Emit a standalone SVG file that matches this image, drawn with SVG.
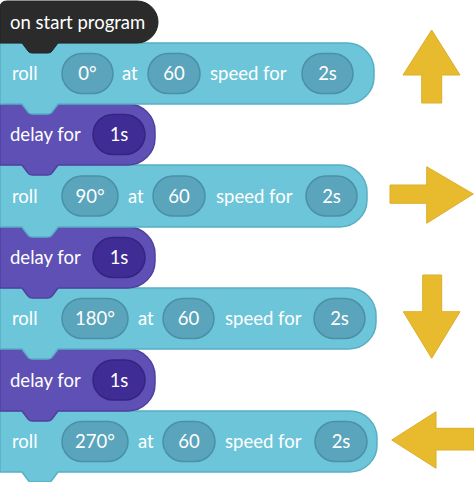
<svg xmlns="http://www.w3.org/2000/svg" width="474" height="482" viewBox="0 0 474 482">
<style>
text{font-family:Lato,"Liberation Sans",sans-serif;font-size:18.5px;fill:#ffffff}
.c{text-anchor:middle}
.roll{fill:#6DC5DA;stroke:#58AEC3;stroke-width:1.5}
.rin{fill:#5AA5BC;stroke:#4A90A6;stroke-width:1.5}
.del{fill:#5E50B4;stroke:#4E41A0;stroke-width:1.5}
.din{fill:#3F2C94;stroke:#352482;stroke-width:1.5}
.hat{fill:#2B2B2B;stroke:#222;stroke-width:1}
.arr{fill:#E8BA2E;stroke:#DDAE28;stroke-width:1}
</style>
<rect width="474" height="482" fill="#ffffff"/>
<g id="connectors"/>
<g id="roll4">
<path class="roll" d="M0,411 H350 A27,27 0 0 1 377,438 V445 A27,27 0 0 1 350,472 H58 L52,480 Q51,482 48,482 H32 Q29,482 28,480 L22,472 H0 Z"/>
<text x="12" y="448">roll</text>
<rect class="rin" x="62" y="421.5" width="66" height="40" rx="20"/>
<text class="c" x="95" y="448">270°</text>
<text x="138" y="448">at</text>
<rect class="rin" x="163" y="421.5" width="52" height="40" rx="20"/>
<text class="c" x="189" y="448">60</text>
<text x="225" y="448">speed for</text>
<rect class="rin" x="315" y="421.5" width="52" height="40" rx="20"/>
<text class="c" x="341" y="448">2s</text>
</g>
<g id="delay3">
<path class="del" d="M0,349 H128 A27,27 0 0 1 155,376 V384 A27,27 0 0 1 128,411 H58 L52,419 Q51,421 48,421 H32 Q29,421 28,419 L22,411 H0 Z"/>
<text x="10" y="386.5">delay for</text>
<rect class="din" x="93" y="360" width="52" height="40" rx="20"/>
<text class="c" x="119" y="386.5">1s</text>
</g>
<g id="roll3">
<path class="roll" d="M0,288 H349 A27,27 0 0 1 376,315 V322 A27,27 0 0 1 349,349 H58 L52,357 Q51,359 48,359 H32 Q29,359 28,357 L22,349 H0 Z"/>
<text x="12" y="325">roll</text>
<rect class="rin" x="62" y="298.5" width="66" height="40" rx="20"/>
<text class="c" x="95" y="325">180°</text>
<text x="138" y="325">at</text>
<rect class="rin" x="163" y="298.5" width="51" height="40" rx="20"/>
<text class="c" x="188.5" y="325">60</text>
<text x="225" y="325">speed for</text>
<rect class="rin" x="314" y="298.5" width="51" height="40" rx="20"/>
<text class="c" x="339.5" y="325">2s</text>
</g>
<g id="delay2">
<path class="del" d="M0,227 H128 A27,27 0 0 1 155,254 V261 A27,27 0 0 1 128,288 H58 L52,296 Q51,298 48,298 H32 Q29,298 28,296 L22,288 H0 Z"/>
<text x="10" y="264">delay for</text>
<rect class="din" x="93" y="237.5" width="52" height="40" rx="20"/>
<text class="c" x="119" y="264">1s</text>
</g>
<g id="roll2">
<path class="roll" d="M0,165 H340 A27,27 0 0 1 367,192 V200 A27,27 0 0 1 340,227 H58 L52,235 Q51,237 48,237 H32 Q29,237 28,235 L22,227 H0 Z"/>
<text x="12" y="202.5">roll</text>
<rect class="rin" x="62" y="176" width="56" height="40" rx="20"/>
<text class="c" x="90" y="202.5">90°</text>
<text x="128" y="202.5">at</text>
<rect class="rin" x="153" y="176" width="52" height="40" rx="20"/>
<text class="c" x="179" y="202.5">60</text>
<text x="216" y="202.5">speed for</text>
<rect class="rin" x="306" y="176" width="51" height="40" rx="20"/>
<text class="c" x="331.5" y="202.5">2s</text>
</g>
<g id="delay1">
<path class="del" d="M0,104 H128 A27,27 0 0 1 155,131 V138 A27,27 0 0 1 128,165 H58 L52,173 Q51,175 48,175 H32 Q29,175 28,173 L22,165 H0 Z"/>
<text x="10" y="141">delay for</text>
<rect class="din" x="93" y="114.5" width="52" height="40" rx="20"/>
<text class="c" x="119" y="141">1s</text>
</g>
<g id="roll1">
<path class="roll" d="M0,43 H347 A27,27 0 0 1 374,70 V77 A27,27 0 0 1 347,104 H58 L52,112 Q51,114 48,114 H32 Q29,114 28,112 L22,104 H0 Z"/>
<text x="12" y="80">roll</text>
<rect class="rin" x="62" y="53.5" width="51" height="40" rx="20"/>
<text class="c" x="87.5" y="80">0°</text>
<text x="122" y="80">at</text>
<rect class="rin" x="148" y="53.5" width="52" height="40" rx="20"/>
<text class="c" x="174" y="80">60</text>
<text x="210" y="80">speed for</text>
<rect class="rin" x="302" y="53.5" width="51" height="40" rx="20"/>
<text class="c" x="327.5" y="80">2s</text>
</g>
<g id="start">
<path class="hat" d="M0,8 Q0,1 7,1 H137 A21,21 0 0 1 158,22 A21,21 0 0 1 137,43 H58 L52,51 Q51,53 48,53 H32 Q29,53 28,51 L22,43 H0 Z"/>
<text x="10" y="28.5">on start program</text>
</g>
<g id="arrows">
<path id="arrow-up" class="arr" d="M431.7,30 L460,75 H441.7 V103 H421.7 V75 H403 Z"/>
<path id="arrow-right" class="arr" d="M473.3,194 L426.7,166.7 V185 H390 V203.3 H426.7 V223.3 Z"/>
<path id="arrow-down" class="arr" d="M431.7,358.3 L460,311.7 H441.7 V275 H422.7 V311.7 H403.3 Z"/>
<path id="arrow-left" class="arr" d="M391.7,440 L436,411.7 V428.3 H474 V450 H436 V468.3 Z"/>
</g>
</svg>
